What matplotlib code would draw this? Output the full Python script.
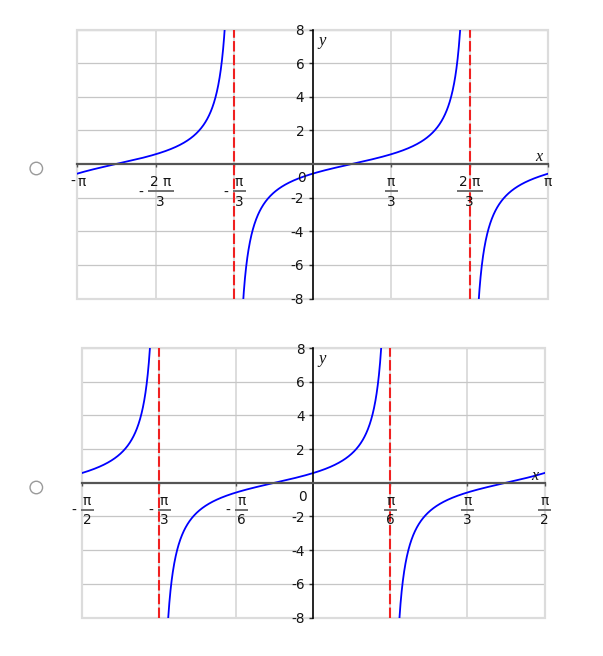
import numpy as np
import matplotlib
matplotlib.use('Agg')
import matplotlib.pyplot as plt
from matplotlib.patches import Rectangle, Ellipse

PI = np.pi

# top option: y = tan(b*x + c)
TOP_XRANGE = [-PI, PI]
TOP_B = 1.0
TOP_C = -PI / 6
TOP_ASYMPTOTES = [-PI / 3, 2 * PI / 3]
TOP_XTICKS = [-PI, -2 * PI / 3, -PI / 3, PI / 3, 2 * PI / 3, PI]
# (sign, numerator, denominator)
TOP_XLABELS = [('-', 'π', ''), ('-', '2 π', '3'), ('-', 'π', '3'),
               ('', 'π', '3'), ('', '2 π', '3'), ('', 'π', '')]

# bottom option
BOT_XRANGE = [-PI / 2, PI / 2]
BOT_B = 2.0
BOT_C = PI / 6
BOT_ASYMPTOTES = [-PI / 3, PI / 6]
BOT_XTICKS = [-PI / 2, -PI / 3, -PI / 6, PI / 6, PI / 3, PI / 2]
BOT_XLABELS = [('-', 'π', '2'), ('-', 'π', '3'), ('-', 'π', '6'),
               ('', 'π', '6'), ('', 'π', '3'), ('', 'π', '2')]

YRANGE = [-8, 8]
YTICKS = [-8, -6, -4, -2, 2, 4, 6, 8]

W, H = 603, 656
TXT = '#141414'
FS = 9.8


def px_axes(fig, left, top, right, bottom):
    return fig.add_axes([left / W, 1 - bottom / H, (right - left) / W, (bottom - top) / H])


def put(ax, s, xv, dx, dy, **kw):
    # dx, dy in pixels relative to the point (xv, 0)
    ax.annotate(s, xy=(xv, 0), xytext=(dx * 0.72, -dy * 0.72), textcoords='offset points',
                ha='center', va='center', fontsize=FS, color=TXT, zorder=6,
                annotation_clip=False, **kw)


def xlabels(ax, xticks, labels):
    bb = ax.get_window_extent()
    x0, x1 = ax.get_xlim()
    sx = (x1 - x0) / bb.width
    sy = (YRANGE[1] - YRANGE[0]) / bb.height
    for xv, (sign, num, den) in zip(xticks, labels):
        shift = 5 if sign else 0
        if not den:
            put(ax, num, xv, shift, 18)
            if sign:
                put(ax, '-', xv, shift - 9, 18)
            continue
        bw = 13 if len(num) == 1 else 26
        put(ax, num, xv, shift, 18)
        put(ax, den, xv, shift, 37.5)
        bx = xv + shift * sx
        ax.plot([bx - bw / 2 * sx, bx + bw / 2 * sx], [-27 * sy, -27 * sy],
                color='#707070', lw=1.4, solid_capstyle='butt', clip_on=False, zorder=6)
        if sign:
            put(ax, '-', xv, shift - bw / 2 - 7, 28.5)


def draw_option(ax, xrange, b, c, asym, xticks, labels):
    ax.set_xlim(xrange)
    ax.set_ylim(YRANGE)

    # grid
    for xv in xticks:
        ax.axvline(xv, color='#dadada', lw=1.3, zorder=0)
    for yv in YTICKS:
        ax.axhline(yv, color='#c6c6c6', lw=0.9, zorder=0)
    ax.add_patch(Rectangle((0, 0), 1, 1, transform=ax.transAxes, fill=False,
                           ec='#dcdcdc', lw=1.6, clip_on=False, zorder=0.5))

    # curve, split at the asymptotes
    edges = [xrange[0]] + list(asym) + [xrange[1]]
    for a, e in zip(edges[:-1], edges[1:]):
        lo = a + 1e-3 if a in asym else a
        hi = e - 1e-3 if e in asym else e
        xs = np.linspace(lo, hi, 800)
        ax.plot(xs, np.tan(b * xs + c), color='#0000ff', lw=1.3, zorder=2)

    for xa in asym:
        ax.axvline(xa, color='#f02020', lw=1.5, dashes=(5, 1.6), zorder=3)

    for s in ['top', 'right']:
        ax.spines[s].set_visible(False)
    ax.spines['bottom'].set_position(('data', 0))
    ax.spines['bottom'].set_color('#555555')
    ax.spines['bottom'].set_linewidth(1.6)
    ax.spines['left'].set_position(('data', 0))
    ax.spines['left'].set_color('#000000')
    ax.spines['left'].set_linewidth(1.2)
    ax.spines['bottom'].set_zorder(4)
    ax.spines['left'].set_zorder(4)

    ax.set_xticks(xticks)
    ax.set_xticklabels([])
    ax.set_yticks(YTICKS)
    ax.set_yticklabels(['-%d' % -v if v < 0 else '%d' % v for v in YTICKS])
    ax.tick_params(axis='x', length=2.5, width=1, color='#555555')
    ax.tick_params(axis='y', length=3, width=1, color='#333333', pad=3,
                   labelsize=FS, labelcolor=TXT)
    for lab in ax.get_yticklabels():
        lab.set_zorder(5)

    xlabels(ax, xticks, labels)

    ax.annotate('0', xy=(0, 0), xytext=(-5, -10), textcoords='offset points',
                ha='right', va='center', fontsize=FS, color=TXT)
    ax.annotate('y', xy=(0, YRANGE[1]), xytext=(4, -8), textcoords='offset points',
                ha='left', va='center', fontsize=12, color=TXT,
                family='Liberation Serif', style='italic')
    ax.annotate('x', xy=(xrange[1], 0), xytext=(-7, 5), textcoords='offset points',
                ha='center', va='center', fontsize=11.5, color=TXT,
                family='Liberation Serif', style='italic')


fig = plt.figure(figsize=(W / 100, H / 100), dpi=100)

ax1 = px_axes(fig, 77, 29.5, 548, 298.5)
draw_option(ax1, TOP_XRANGE, TOP_B, TOP_C, TOP_ASYMPTOTES, TOP_XTICKS, TOP_XLABELS)

ax2 = px_axes(fig, 82, 348, 544.5, 617.5)
draw_option(ax2, BOT_XRANGE, BOT_B, BOT_C, BOT_ASYMPTOTES, BOT_XTICKS, BOT_XLABELS)

# radio buttons
for cy in [168.5, 487.5]:
    fig.add_artist(Ellipse((36.3 / W, 1 - cy / H), 12.5 / W, 12.5 / H,
                           transform=fig.transFigure, fill=False, ec='#9a9a9a', lw=1))

fig.savefig('out.png', dpi=100)
